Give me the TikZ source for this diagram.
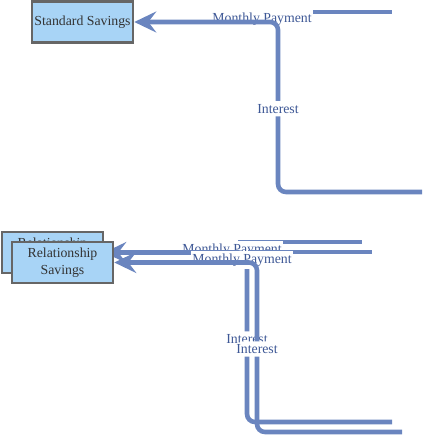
\documentclass[tikz,border=0pt]{standalone}
\usepackage{fontspec}
\setmainfont{Liberation Serif}
\usepackage{xcolor}
\usetikzlibrary{arrows.meta}
\definecolor{flowblue}{RGB}{106,133,191}
\definecolor{lblblue}{RGB}{62,88,150}
\definecolor{acctfill}{RGB}{168,212,246}
\definecolor{acctline}{RGB}{102,102,102}
\definecolor{accttext}{RGB}{51,51,51}

\begin{document}
\begin{tikzpicture}[x=1pt, y=-1pt, font=\fontsize{13.8}{16.5}\selectfont,
  >={Stealth[length=22pt, width=21pt, inset=8pt]},
  acct/.style={draw=acctline, line width=2.6pt, fill=acctfill, text=accttext,
    minimum width=101pt, minimum height=41pt, inner sep=1pt, align=center},
  flow/.style={draw=flowblue, line width=4.6pt, rounded corners=8pt},
  flowlbl/.style={text=lblblue, fill=white, inner xsep=1pt, inner ysep=3pt}]
\useasboundingbox (0,0) rectangle (433,443);
% standard account
\node[acct] (ss) at (82.5,22) {Standard Savings};
\coordinate (ssin) at (422,192);
\coordinate (ssa) at (268,12);
\coordinate (ssb) at (392,12);
\draw[flow] (ssa) -- (ssb);
\node[flowlbl] (ssmp) at (262,19) {Monthly Payment};
\draw[flow, ->] (ssin) -- (278,192)
  -- node[flowlbl, pos=0.49] (ssint) {Interest} (278,22) -- (ss.east);
% relationship account, two copies
\foreach \k/\d in {b/0, f/10}{
  \node[acct] (rs\k) at ({52.5+\d},{252.5+\d}) {Relationship\\Savings};
  \coordinate (rs\k in) at ({392+\d},{422+\d});
  \coordinate (rs\k a) at ({238+\d},{242+\d});
  \coordinate (rs\k b) at ({362+\d},{242+\d});
  \draw[flow] (rs\k a) -- (rs\k b);
  \node[flowlbl] (rs\k mp) at ({232+\d},{250+\d}) {Monthly Payment};
  \draw[flow, ->] (rs\k in) -- ({247+\d},{422+\d})
    -- node[flowlbl, pos=0.49] (rs\k int) {Interest} ({247+\d},{252.5+\d}) -- (rs\k.east);
}
\end{tikzpicture}
\end{document}
